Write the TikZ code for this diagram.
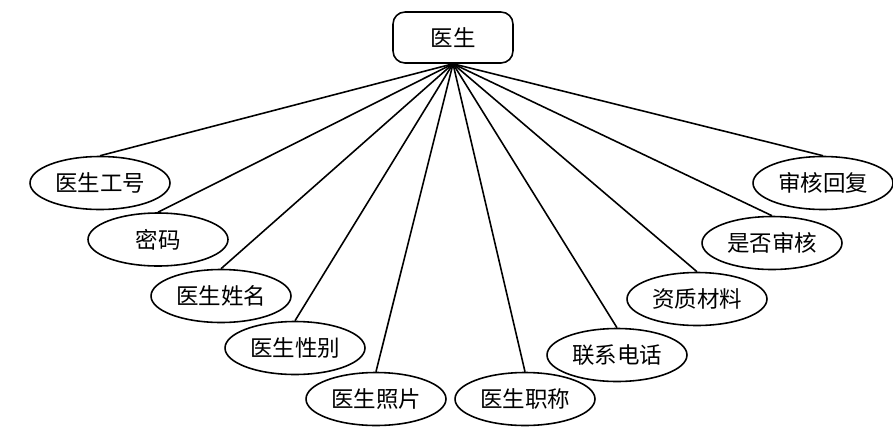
\documentclass[tikz,border=0pt]{standalone}
\usepackage{fontspec}
\newfontfamily\cjk{Noto Sans CJK SC}
\usetikzlibrary{shapes.geometric}

\begin{document}
\begin{tikzpicture}[
    x=0.02cm, y=-0.02cm,
    entity/.style={draw, rounded corners=0.24cm, line width=0.9pt,
        minimum width=2.4cm, minimum height=1.02cm, font=\cjk\fontsize{12.8}{15}\selectfont},
    attr/.style={draw, ellipse, line width=0.9pt, inner sep=0pt,
        minimum width=2.8cm, minimum height=1.06cm, font=\cjk\fontsize{12.8}{15}\selectfont},
    edge/.style={line width=0.9pt}
]
\useasboundingbox (0,0) rectangle (893,440);

% entity
\node[entity] (doc) at (453,37.5) {医生};

% left attributes
\node[attr] (a1) at (100,183) {医生工号};
\node[attr] (a2) at (158,239.5) {密码};
\node[attr] (a3) at (221,296) {医生姓名};
\node[attr] (a4) at (295,348) {医生性别};
\node[attr] (a5) at (376,399) {医生照片};

% right attributes
\node[attr] (b1) at (525,399) {医生职称};
\node[attr] (b2) at (617,355) {联系电话};
\node[attr] (b3) at (697,299) {资质材料};
\node[attr] (b4) at (772,243) {是否审核};
\node[attr] (b5) at (823,183) {审核回复};

\foreach \n in {a1,a2,a3,a4,a5,b1,b2,b3,b4,b5}
    \draw[edge] (doc.south) -- (\n.north);

\end{tikzpicture}
\end{document}
